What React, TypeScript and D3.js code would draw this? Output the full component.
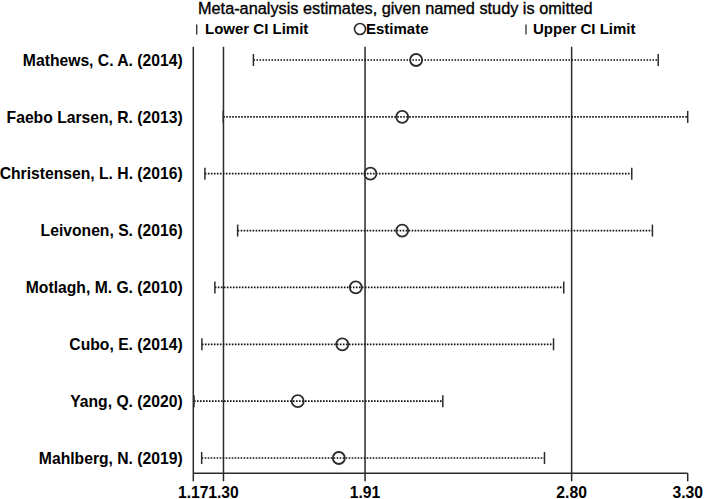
import * as d3 from "d3"

const studies = [
  "Mathews, C. A. (2014)",
  "Faebo Larsen, R. (2013)",
  "Christensen, L. H. (2016)",
  "Leivonen, S. (2016)",
  "Motlagh, M. G. (2010)",
  "Cubo, E. (2014)",
  "Yang, Q. (2020)",
  "Mahlberg, N. (2019)",
]
const lowerCI = [1.429, 1.299, 1.22, 1.361, 1.263, 1.207, 1.173, 1.206]
const estimates = [2.13, 2.07, 1.933, 2.07, 1.87, 1.812, 1.62, 1.797]
const upperCI = [3.173, 3.3, 3.059, 3.148, 2.766, 2.722, 2.245, 2.683]

const tickValues = [1.17, 1.3, 1.91, 2.8, 3.3]
const tickLabels = ["1.17", "1.30", "1.91", "2.80", "3.30"]
const refLines = [1.3, 1.91, 2.8]

const W = 708
const H = 499
const FONT = "'Liberation Sans', Arial, Helvetica, sans-serif"
const INK = "#2b2b2b"

export default function App() {
  const x = d3.scaleLinear().domain([1.17, 3.3]).range([193.3, 687.7])
  const y = d3.scalePoint<string>().domain(studies).range([60, 458])
  const top = 46.7
  const axisY = 473.3

  return (
    <svg
      width={W}
      height={H}
      style={{ position: "absolute", left: 0, top: 0, background: "#fff" }}
      fontFamily={FONT}
    >
      {/* title */}
      <text x={198} y={13.5} fontSize={16.3} fill="#000" stroke="#000" strokeWidth={0.35}>
        Meta-analysis estimates, given named study is omitted
      </text>

      {/* legend */}
      <line x1={196.7} x2={196.7} y1={24.5} y2={34.5} stroke={INK} strokeWidth={1.3} />
      <text x={205} y={34} fontSize={15} fontWeight="bold" fill="#000">
        Lower CI Limit
      </text>
      <circle cx={360} cy={29} r={5.5} fill="none" stroke={INK} strokeWidth={1.6} />
      <text x={366} y={34} fontSize={15} fontWeight="bold" fill="#000">
        Estimate
      </text>
      <line x1={526} x2={526} y1={24.5} y2={34.5} stroke={INK} strokeWidth={1.3} />
      <text x={533} y={34} fontSize={15} fontWeight="bold" fill="#000">
        Upper CI Limit
      </text>

      {/* left axis line and reference lines */}
      <line x1={x(1.17)} x2={x(1.17)} y1={top} y2={axisY} stroke={INK} strokeWidth={1.5} />
      {refLines.map((v) => (
        <line key={v} x1={x(v)} x2={x(v)} y1={top} y2={axisY} stroke={INK} strokeWidth={1.5} />
      ))}

      {/* study rows */}
      {studies.map((s, i) => {
        const cy = y(s) as number
        return (
          <g key={s}>
            <text
              x={182.7}
              y={cy}
              dy="0.36em"
              textAnchor="end"
              fontSize={15.7}
              fontWeight="bold"
              fill="#000"
            >
              {s}
            </text>
            <line
              x1={x(lowerCI[i])}
              x2={x(upperCI[i])}
              y1={cy}
              y2={cy}
              stroke="#111"
              strokeWidth={1.7}
              strokeDasharray="1.6 1.4"
            />
            <line x1={x(lowerCI[i])} x2={x(lowerCI[i])} y1={cy - 6} y2={cy + 6} stroke={INK} strokeWidth={1.5} />
            <line x1={x(upperCI[i])} x2={x(upperCI[i])} y1={cy - 6} y2={cy + 6} stroke={INK} strokeWidth={1.5} />
            <circle cx={x(estimates[i])} cy={cy} r={6} fill="none" stroke={INK} strokeWidth={1.8} />
          </g>
        )
      })}

      {/* x axis */}
      <line x1={x(1.17)} x2={x(3.3)} y1={axisY} y2={axisY} stroke={INK} strokeWidth={1.5} />
      {tickValues.map((v, i) => (
        <g key={v}>
          <line x1={x(v)} x2={x(v)} y1={axisY} y2={axisY + 8} stroke={INK} strokeWidth={1.5} />
          <text x={x(v)} y={497.5} textAnchor="middle" fontSize={15.7} fontWeight="bold" fill="#000">
            {tickLabels[i]}
          </text>
        </g>
      ))}
    </svg>
  )
}
